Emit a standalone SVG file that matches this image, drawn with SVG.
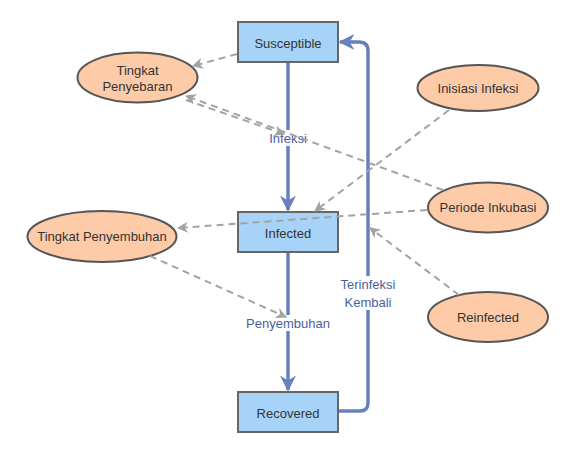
<svg xmlns="http://www.w3.org/2000/svg" width="575" height="454" viewBox="0 0 575 454">
<style>
text{font-family:"Comic Sans MS","Liberation Sans",sans-serif;font-size:13px;text-anchor:middle;dominant-baseline:central}
.box{fill:#a6d3f7;stroke:#666;stroke-width:2}
.oval{fill:#fdcba8;stroke:#555;stroke-width:2}
.nt{fill:#333}
.flow{fill:none;stroke:#6780bd;stroke-width:3.5}
.dash{fill:none;stroke:#a3a3a3;stroke-width:2;stroke-dasharray:7,5}
.fl{fill:#4b5e9e}
</style>
<defs>
<marker id="ba" viewBox="0 0 10 10" refX="9" refY="5" markerWidth="16" markerHeight="16" markerUnits="userSpaceOnUse" orient="auto">
<path d="M0,0 L10,5 L0,10 L3,5 z" fill="#6780bd"/>
</marker>
<marker id="ga" viewBox="0 0 10 10" refX="9" refY="5" markerWidth="11" markerHeight="11" markerUnits="userSpaceOnUse" orient="auto">
<path d="M0,0 L10,5 L0,10 L3,5 z" fill="#a3a3a3"/>
</marker>
</defs>
<g id="susceptible"><rect class="box" x="238" y="22" width="100" height="40"/><text class="nt" x="288" y="43">Susceptible</text></g>
<g id="infected"><rect class="box" x="238" y="212" width="100" height="40"/><text class="nt" x="288" y="233">Infected</text></g>
<g id="recovered"><rect class="box" x="238" y="392" width="100" height="40"/><text class="nt" x="288" y="413">Recovered</text></g>
<g id="tingkat-penyebaran"><ellipse class="oval" cx="137.5" cy="77.5" rx="60" ry="25"/><text class="nt" x="137.5" y="70">Tingkat</text><text class="nt" x="137.5" y="86">Penyebaran</text></g>
<g id="tingkat-penyembuhan"><ellipse class="oval" cx="102" cy="236.5" rx="74.5" ry="25.5"/><text class="nt" x="102" y="236.5">Tingkat Penyembuhan</text></g>
<g id="inisiasi-infeksi"><ellipse class="oval" cx="478" cy="88" rx="60.5" ry="23"/><text class="nt" x="478" y="88">Inisiasi Infeksi</text></g>
<g id="periode-inkubasi"><ellipse class="oval" cx="488" cy="207.5" rx="60" ry="25"/><text class="nt" x="488" y="207.5">Periode Inkubasi</text></g>
<g id="reinfected"><ellipse class="oval" cx="488" cy="317" rx="60" ry="25"/><text class="nt" x="488" y="317">Reinfected</text></g>
<g id="connectors">
<path class="flow" d="M288,63 V210" marker-end="url(#ba)"/>
<path class="flow" d="M288,253 V390" marker-end="url(#ba)"/>
<path class="flow" d="M339,411 H360 Q368,411 368,403 V51 Q368,42 359,42 H340" marker-end="url(#ba)"/>
<rect x="262" y="130" width="52" height="16" fill="#fff"/>
<rect x="244" y="315" width="88" height="16" fill="#fff"/>
<rect x="333" y="276" width="70" height="34" fill="#fff"/>
<text class="fl" x="288" y="138">Infeksi</text>
<text class="fl" x="288" y="323">Penyembuhan</text>
<text class="fl" x="368" y="284">Terinfeksi</text>
<text class="fl" x="368" y="302">Kembali</text>
<path class="dash" d="M237,54 L193,66" marker-end="url(#ga)"/>
<path class="dash" d="M443,190 L186,96" marker-end="url(#ga)"/>
<path class="dash" d="M186,100 L284,134" marker-end="url(#ga)"/>
<path class="dash" d="M449,110 L315,211" marker-end="url(#ga)"/>
<path class="dash" d="M427,210 L178,228" marker-end="url(#ga)"/>
<path class="dash" d="M150,256 L286,317" marker-end="url(#ga)"/>
<path class="dash" d="M459,295 L370,228" marker-end="url(#ga)"/>
</g>
</svg>
